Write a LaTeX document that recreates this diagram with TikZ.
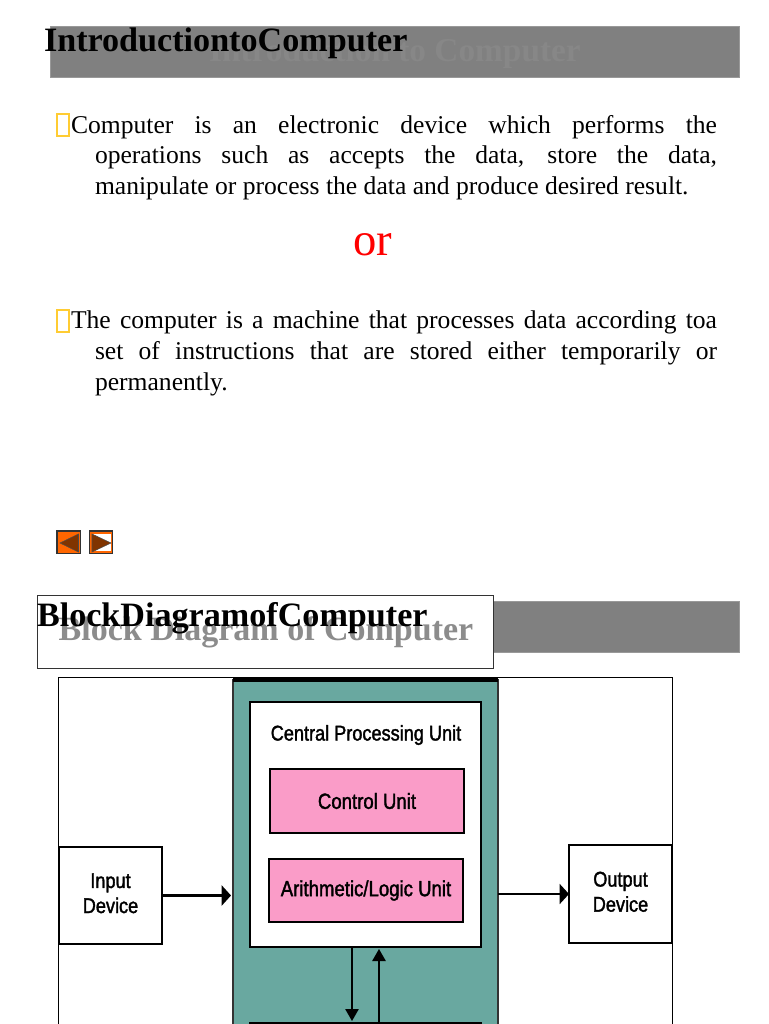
\documentclass[tikz,border=0pt]{standalone}
\usepackage{fontspec}
\setmainfont{Liberation Serif}
\newfontfamily\diagfont[FakeStretch=0.85,FakeBold=1.6]{Liberation Sans}
\usetikzlibrary{arrows.meta}
\definecolor{barGray}{HTML}{808080}
\definecolor{ghostGray}{HTML}{878787}
\definecolor{tealFill}{HTML}{69A8A0}
\definecolor{pinkFill}{HTML}{FA9CC8}
\definecolor{navOrange}{HTML}{FF6600}
\definecolor{navBrown}{HTML}{803400}
\definecolor{bulletYellow}{HTML}{FFCC33}
\newcommand{\fullline}[2]{\makebox[#1][s]{#2}}
\begin{document}
\begin{tikzpicture}[x=0.75pt, y=-0.75pt,
    every node/.style={inner sep=0pt, outer sep=0pt},
    para/.style={anchor=north west, align=left, font=\fontsize{19.2pt}{23.2pt}\selectfont},
    bullet/.style={anchor=north west, draw=bulletYellow, line width=0.8pt, minimum width=9pt, minimum height=16.5pt},
    heading/.style={anchor=west, font=\fontsize{25.6pt}{28pt}\selectfont\bfseries},
    bar/.style={anchor=north west, fill=barGray, draw=gray!80, line width=0.5pt, minimum width=517pt, minimum height=38.5pt},
    navbtn/.style={anchor=north west, draw=black!80, line width=0.8pt, minimum width=17.5pt, minimum height=17pt},
    block/.style={anchor=north west, draw=black, line width=2.2pt, fill=white, align=center, font=\diagfont\fontsize{16pt}{18.8pt}\selectfont},
    devblock/.style={block, text depth=3.5pt},
    pinkblock/.style={block, fill=pinkFill, font=\diagfont\fontsize{16.4pt}{18.8pt}\selectfont},
    hlink/.style={draw=black, line width=1.8pt, -{Triangle[length=7pt, width=15pt]}},
    vlink/.style={draw=black, line width=1.2pt, -{Triangle[length=9pt, width=10pt]}}]
  \clip (0,0) rectangle (768,1024);
  \fill[white] (0,0) rectangle (768,1024);
  % First slide title
  \node[bar] (barA) at (50,26) {};
  \node[anchor=center, text=ghostGray, font=\fontsize{25pt}{28pt}\selectfont\bfseries] (ghostA) at (395,53) {Introduction to Computer};
  \node[heading] (titleA) at (44,43) {IntroductiontoComputer};
  % Paragraphs
  \node[bullet] (bulletA) at (57,114) {};
  \node[para] (paraA) at (71,115) {\fullline{484.5pt}{Computer is an electronic device which performs the}\\
    \hspace*{18pt}\fullline{466.5pt}{operations such as accepts the data, store the data,}\\
    \hspace*{18pt}manipulate or process the data and produce desired result.};
  \node[text=red, font=\fontsize{35pt}{38pt}\selectfont] (orword) at (373,245) {or};
  \node[bullet] (bulletB) at (57,310) {};
  \node[para] (paraB) at (71,311) {\fullline{484.5pt}{The computer is a machine that processes data according toa}\\
    \hspace*{18pt}\fullline{466.5pt}{set of instructions that are stored either temporarily or}\\
    \hspace*{18pt}permanently.};
  % Nav buttons
  \node[navbtn, fill=navOrange] (navprev) at (57,531) {};
  \fill[navBrown, draw=black!70] (78.5,534) -- (78.5,552) -- (60,543) -- cycle;
  \node[navbtn, fill=navOrange] (navnext) at (89.5,531) {};
  \fill[white] (93,534) rectangle (110.5,551);
  \fill[navBrown, draw=black!70] (92,534) -- (92,552) -- (111,543) -- cycle;
  % Second slide title
  \node[bar] (barB) at (50,601) {};
  \node[anchor=north west, draw=black!80, fill=white, line width=0.7pt, minimum width=342.25pt, minimum height=54.75pt] (titlebox) at (37,595) {};
  \node[anchor=center, text=black!45, font=\fontsize{25.5pt}{28pt}\selectfont\bfseries] (ghostB) at (266,632) {Block Diagram of Computer};
  \node[heading] (titleB) at (37,618) {BlockDiagramofComputer};
  % Diagram
  \node[anchor=north west, draw=black, fill=white, line width=0.6pt, minimum width=460.75pt, minimum height=300pt] (frame) at (58,677.5) {};
  \node[anchor=north west, draw=black!80, fill=tealFill, line width=1.2pt, minimum width=198.75pt, minimum height=300pt] (system) at (233,680) {};
  \draw[black, line width=2.4pt] (system.north west) -- (system.north east);
  \node[block, minimum width=173.25pt, minimum height=183.75pt] (cpu) at (250,702) {};
  \node[anchor=center, font=\diagfont\fontsize{16pt}{18pt}\selectfont] (cpulabel) at (366,735) {Central Processing Unit};
  \node[pinkblock, minimum width=145.5pt, minimum height=48pt] (control) at (270,769) {Control Unit};
  \node[pinkblock, minimum width=145.5pt, minimum height=47.25pt] (alu) at (269,859) {Arithmetic/Logic Unit};
  \node[devblock, minimum width=77.25pt, minimum height=72.75pt] (input) at (59,847) {Input\\Device};
  \node[devblock, minimum width=77.25pt, minimum height=73.5pt] (output) at (569,845) {Output\\Device};
  \node[block, minimum width=173.25pt, minimum height=60pt] (memory) at (250,1023) {};
  % Arrows
  \coordinate (cpuout) at (352,947);
  \coordinate (memin) at (352,1021);
  \coordinate (memout) at (379,1023);
  \coordinate (cpuin) at (379,949);
  \draw[hlink, shorten >=1.5pt] (input) -- (input -| system.west);
  \draw[hlink, line width=1.3pt] (system.east |- output) -- (output);
  \draw[vlink] (cpuout) -- (memin);
  \draw[vlink] (memout) -- (cpuin);
\end{tikzpicture}
\end{document}
